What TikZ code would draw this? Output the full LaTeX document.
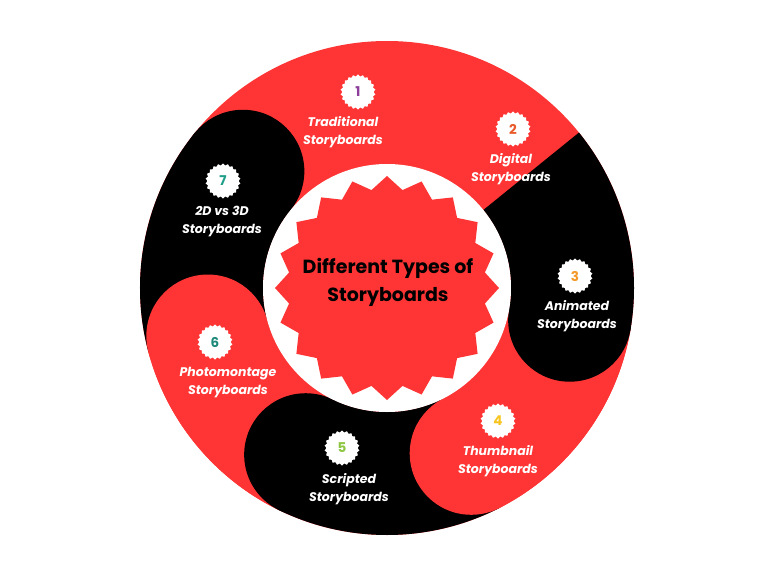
\documentclass[tikz,border=0pt]{standalone}
\usepackage{fontspec}
\setmainfont{Poppins}
\usepackage{xcolor}
\usepackage{tikz}
\usetikzlibrary{positioning,shapes.geometric}
\definecolor{sbred}{HTML}{FF3535}
\definecolor{numa}{HTML}{8E3E9B}
\definecolor{numb}{HTML}{E85A2A}
\definecolor{numc}{HTML}{F39A2B}
\definecolor{numd}{HTML}{F7C51E}
\definecolor{nume}{HTML}{8DC641}
\definecolor{numf}{HTML}{1E8A7A}
\definecolor{numg}{HTML}{1F9E89}
% one piece of the ring, with its round end at the last angle
\newcommand{\lobe}[3]{%
  \fill[#1] (#2:247pt) arc[start angle=#2,end angle=#3,radius=247pt]
    -- (#3:124pt) arc[start angle=#3,end angle=#2,radius=124pt] -- cycle;
  \fill[#1] (#3:185.5pt) circle[radius=61.5pt];}

\begin{document}
\begin{tikzpicture}[x=1pt,y=1pt,
    badge/.style={star,star points=22,star point ratio=1.12,minimum size=35pt,
      inner sep=0pt,fill=white,font=\fontsize{13.5}{13.5}\selectfont\bfseries},
    caption/.style={align=center,text=white,inner sep=0pt,
      font=\fontsize{12.5}{18}\selectfont\bfseries\itshape}]
  \useasboundingbox (-387,-288) rectangle (381,288);
  % ring
  \fill[sbred] (0,0) circle[radius=247pt];
  \lobe{black}{-165}{-219}
  \lobe{sbred}{-116}{-165}
  \lobe{black}{-63}{-116}
  \lobe{sbred}{-10}{-63}
  \lobe{black}{39}{-10}
  \fill[white] (0,0) circle[radius=124pt];
  \node[star,star points=20,star point ratio=1.13,minimum size=224pt,
        inner sep=0pt,fill=sbred] (burst) at (0,0) {};
  \node[font=\fontsize{19}{28}\selectfont\bfseries,align=center] (title)
    at (1,6) {Different Types of\\Storyboards};
  % numbered steps
  \node[badge,text=numa] (b1) at (-29,196) {1};
  \node[caption,below=7pt of b1,xshift=-15pt] (t1) {Traditional\\Storyboards};
  \node[badge,text=numb] (b2) at (126,159) {2};
  \node[caption,below=7pt of b2,xshift=-2pt] (t2) {Digital\\Storyboards};
  \node[badge,text=numc] (b3) at (188,12) {3};
  \node[caption,below=7pt of b3,xshift=2pt] (t3) {Animated\\Storyboards};
  \node[badge,text=numd] (b4) at (111,-133) {4};
  \node[caption,below=7pt of b4] (t4) {Thumbnail\\Storyboards};
  \node[badge,text=nume] (b5) at (-45,-160) {5};
  \node[caption,below=8pt of b5,xshift=7pt] (t5) {Scripted\\Storyboards};
  \node[badge,text=numf] (b6) at (-172,-54) {6};
  \node[caption,below=7pt of b6,xshift=13pt] (t6) {Photomontage\\Storyboards};
  \node[badge,text=numg] (b7) at (-164,107) {7};
  \node[caption,below=7pt of b7,xshift=-1pt] (t7) {2D vs 3D\\Storyboards};
\end{tikzpicture}
\end{document}
